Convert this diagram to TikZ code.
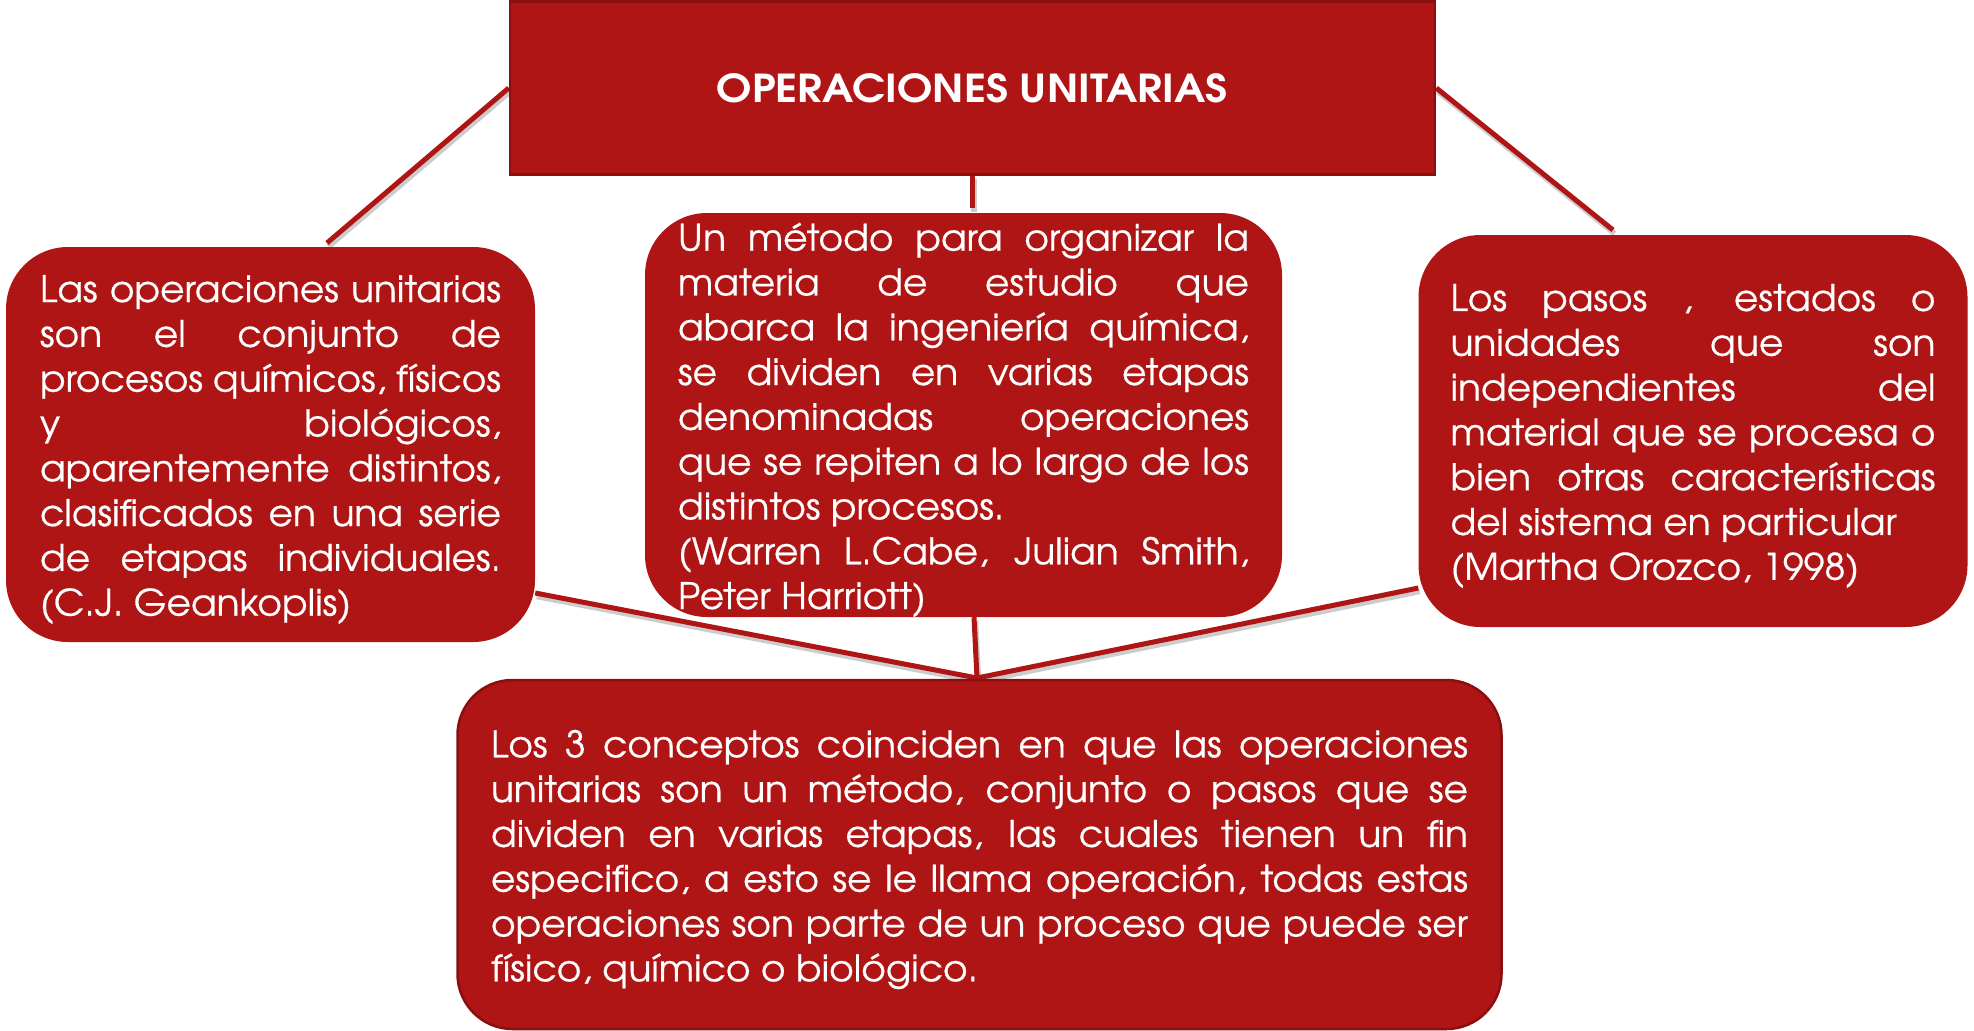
\documentclass[tikz,border=0pt]{standalone}
\usepackage{fontspec}
\setmainfont{texgyreadventor}[Extension=.otf, UprightFont=*-regular, BoldFont=*-bold, ItalicFont=*-italic, BoldItalicFont=*-bolditalic, FakeStretch=1.03, FakeBold=0.5]
\newfontfamily\titlefont{texgyreadventor-bold.otf}[FakeStretch=1.10]
\definecolor{boxred}{HTML}{B01515}
\definecolor{boxdark}{HTML}{8A0E0E}
\pgfdeclarelayer{back}
\pgfdeclarelayer{bg}
\pgfsetlayers{back,bg,main}
\tikzset{
  bodytext/.style={text=white, font={\fontsize{36.5}{44.8}\selectfont\tolerance=10000\hbadness=10000\hyphenpenalty=10000}, align=justify, inner sep=0pt, execute at end node={\par\vspace{-10pt}}},
  cbox/.style={bodytext, fill=boxred, rounded corners=62pt},
  conn/.style={draw=boxred, line width=5pt,
    preaction={draw=black, draw opacity=0.2, line width=5.5pt, transform canvas={shift={(1.5pt,-3.5pt)}}}},
}
\begin{document}
\begin{tikzpicture}[x=1pt,y=-1pt]
\begin{pgfonlayer}{back}
\useasboundingbox[fill=white] (0,0) rectangle (1974,1031);
\end{pgfonlayer}
% top title box
\node[fill=boxred, draw=boxdark, line width=2.5pt, minimum width=925pt, minimum height=173pt, inner sep=0pt] (top) at (972.5,88) {};
\node[text=white, font={\titlefont\fontsize{38.5}{40}\selectfont}, inner sep=0pt] (title) at (972,88) {OPERACIONES UNITARIAS};
% left box
\node[cbox, text width=461pt, minimum width=529pt, minimum height=395pt] (left) at (270.5,444.5)
{Las operaciones unitarias\linebreak son el conjunto de\linebreak procesos químicos, físicos\linebreak y biológicos,\linebreak aparentemente distintos,\linebreak clasificados en una serie\linebreak de etapas individuales.\linebreak (C.J. Geankoplis)};
% center box
\node[cbox, text width=571pt, minimum width=637pt, minimum height=404pt] (center) at (963.5,415)
{Un método para organizar la\linebreak materia de estudio que\linebreak abarca la ingeniería química,\linebreak se dividen en varias etapas\linebreak denominadas operaciones\linebreak que se repiten a lo largo de los\linebreak distintos procesos.\\ (Warren L.Cabe, Julian Smith,\linebreak Peter Harriott)};
% right box
\node[cbox, text width=485pt, minimum width=549pt, minimum height=392pt] (right) at (1693,431)
{Los pasos , estados o\linebreak unidades que son\linebreak independientes del\linebreak material que se procesa o\linebreak bien otras características\linebreak del sistema en particular\\ (Martha Orozco, 1998)};
% bottom box
\node[bodytext, fill=boxred, draw=boxdark, line width=2.5pt, rounded corners=55pt, text width=977pt, minimum width=1044pt, minimum height=349pt] (bottom) at (979.5,854.5)
{Los 3 conceptos coinciden en que las operaciones\linebreak unitarias son un método, conjunto o pasos que se\linebreak dividen en varias etapas, las cuales tienen un fin\linebreak especifico, a esto se le llama operación, todas estas\linebreak operaciones son parte de un proceso que puede ser\linebreak físico, químico o biológico.};
% connector end points
\coordinate (tl) at (327,243);
\coordinate (tr) at (1613,230);
\coordinate (tc) at (972.5,208);
\coordinate (j) at (977,678);
\begin{pgfonlayer}{bg}
\draw[conn] (top.west) -- (tl);
\draw[conn] (top.east) -- (tr);
\draw[conn] (top.south) -- (tc);
\draw[conn] (left.east |- 0,593) -- (j);
\draw[conn] (center.south -| 974,0) -- (j);
\draw[conn] (right.west |- 0,588) -- (j);
\end{pgfonlayer}
\end{tikzpicture}
\end{document}
